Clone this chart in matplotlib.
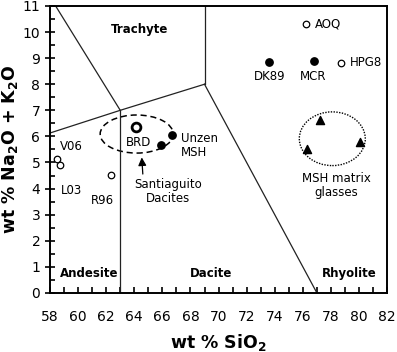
import matplotlib
matplotlib.use("Agg")
import matplotlib.pyplot as plt
from matplotlib.patches import Ellipse
from matplotlib.ticker import MultipleLocator

# field boundaries (SiO2, Na2O+K2O)
bound_x = [[58.4, 63.0], [58.0, 63.0, 69.0], [63.0, 63.0], [69.0, 69.0], [69.0, 77.0]]
bound_y = [[11.0, 7.0], [6.13, 7.0, 8.0], [0.0, 7.0], [8.0, 11.0], [8.0, 0.0]]

# open circles
open_x = [76.2, 78.75, 58.52, 58.71, 62.34]
open_y = [10.31, 8.82, 5.12, 4.90, 4.52]
# filled circles
fill_x = [73.62, 76.83, 66.66, 65.88]
fill_y = [8.86, 8.89, 6.05, 5.67]
# BRD
brd_x, brd_y = 64.13, 6.37
# MSH matrix glasses
tri_x = [77.23, 76.28, 80.1]
tri_y = [6.63, 5.52, 5.80]

fields = ["Trachyte", "Andesite", "Dacite", "Rhyolite"]
field_x = [64.4, 60.8, 69.5, 79.3]
field_y = [10.1, 0.75, 0.75, 0.75]

labels = ["AOQ", "DK89", "MCR", "HPG8", "V06", "L03", "R96", "BRD",
          "Unzen\nMSH", "Santiaguito\nDacites", "MSH matrix\nglasses"]
label_x = [76.85, 73.62, 76.7, 79.35, 59.55, 59.5, 61.75, 64.3, 67.3, 66.4, 78.4]
label_y = [10.31, 8.3, 8.3, 8.85, 5.6, 3.92, 3.54, 5.76, 5.65, 3.88, 4.13]
label_ha = ["left", "center", "center", "left", "center", "center", "center",
            "center", "left", "center", "center"]

fig = plt.figure(figsize=(3.97, 3.52), dpi=100)
ax = fig.add_axes([0.126, 0.168, 0.849, 0.815])

for bx, by in zip(bound_x, bound_y):
    ax.plot(bx, by, color="#222222", lw=0.9)

ax.scatter(open_x, open_y, s=22, facecolors="white", edgecolors="black", lw=0.9, zorder=3)
ax.scatter(fill_x, fill_y, s=28, color="black", zorder=3)
ax.scatter([brd_x], [brd_y], s=40, facecolors="white", edgecolors="black", lw=2.0, zorder=3)
ax.scatter(tri_x, tri_y, s=34, marker="^", color="black", zorder=3)

ax.add_patch(Ellipse((64.17, 6.09), 5.2, 1.46, fill=False, ls=(0, (4, 2.5)), lw=1.1, color="black"))
ax.add_patch(Ellipse((78.1, 5.91), 4.7, 2.06, fill=False, ls=(0, (1, 1)), lw=1.0, color="black"))

ax.annotate("", xy=(64.52, 5.3), xytext=(64.62, 4.45),
            arrowprops=dict(arrowstyle="-|>", color="black", lw=0.9, mutation_scale=12))

for t, x, y in zip(fields, field_x, field_y):
    ax.text(x, y, t, fontsize=8.5, fontweight="bold", ha="center", va="center")

for t, x, y, ha in zip(labels, label_x, label_y, label_ha):
    ax.text(x, y, t, fontsize=8.5, ha=ha, va="center", linespacing=1.1)

ax.set_xlim(58, 82)
ax.set_ylim(0, 11)
ax.xaxis.set_major_locator(MultipleLocator(2))
ax.xaxis.set_minor_locator(MultipleLocator(1))
ax.yaxis.set_major_locator(MultipleLocator(1))
ax.yaxis.set_minor_locator(MultipleLocator(0.5))
ax.tick_params(axis="x", which="both", direction="in", length=4, width=1.2, labelsize=10, pad=12)
ax.tick_params(axis="y", which="major", direction="inout", length=7, width=1.2, labelsize=10)
ax.tick_params(axis="y", which="minor", direction="in", length=3.5, width=1.2)
for s in ax.spines.values():
    s.set_linewidth(1.4)

ax.set_xlabel("wt % SiO$_\\mathbf{2}$", fontsize=12.5, fontweight="bold", labelpad=6)
ax.set_ylabel("wt % Na$_\\mathbf{2}$O + K$_\\mathbf{2}$O", fontsize=12.5, fontweight="bold", labelpad=2)

fig.savefig("out.png", dpi=100)
